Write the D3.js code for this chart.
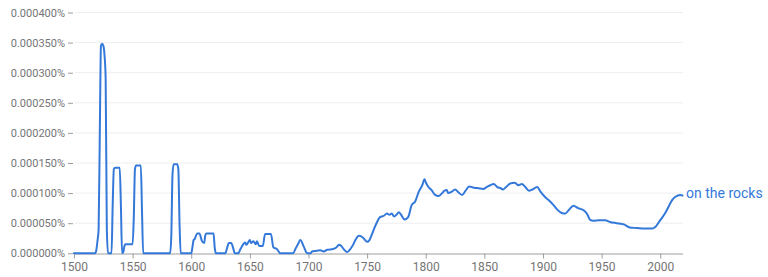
<!DOCTYPE html>
<html>
<head>
<meta charset="utf-8">
<script src="https://cdn.jsdelivr.net/npm/d3@7"></script>
<style>
  html, body { margin: 0; padding: 0; background: #fff; }
  svg { display: block; font-family: Roboto, "Noto Sans", sans-serif; }
</style>
</head>
<body>
<svg id="chart" width="768" height="277"></svg>
<script>
// Data: years and values (in units of 0.000001 %)
const years = [1500,1518,1519,1520,1521,1522,1523,1524,1525,1526,1527,1528,1529,1532,1533,1534,1535,1539,1540,1541,1542,1543,1544,1550,1551,1552,1553,1557,1558,1559,1582,1583,1584,1585,1588,1589,1590,1591,1600,1601,1602,1603,1605,1607,1609,1611,1612,1613,1619,1620,1621,1629,1631,1632,1634,1636,1637,1640,1642,1644,1646,1647,1650,1651,1653,1655,1656,1658,1661,1663,1668,1670,1673,1676,1687,1689,1691,1693,1696,1698,1699,1702,1703,1706,1710,1713,1716,1721,1724,1726,1728,1730,1733,1736,1738,1740,1743,1745,1747,1750,1752,1755,1758,1761,1764,1767,1769,1771,1773,1775,1777,1779,1782,1785,1788,1791,1794,1797,1799,1800,1802,1805,1808,1811,1814,1816,1818,1819,1822,1825,1828,1831,1834,1837,1841,1845,1849,1852,1855,1858,1861,1864,1866,1869,1872,1876,1879,1882,1885,1888,1891,1895,1898,1902,1905,1909,1912,1916,1919,1922,1926,1930,1935,1938,1940,1943,1948,1953,1957,1963,1969,1974,1980,1987,1993,1996,2000,2004,2007,2010,2013,2017,2019];
const values = [0,0,5,20,40,200,345,348,345,330,290,40,0,0,80,140,142,142,80,0,2,12,15,15,60,140,146,146,70,0,0,30,130,148,148,140,50,0,0,10,22,24,33,33,21,17,30,33,33,10,0,0,12,17,17,7,0,0,7,14,18,14,22,17,20,15,20,12,12,32,32,10,7,0,0,8,15,22,11,2,0,0,3,4,5,3,6,7,10,14,12,7,2,8,14,22,29,28,25,19,22,36,50,60,62,66,64,66,61,64,68,64,56,60,80,86,102,113,123,118,111,105,97,95,100,104,105,100,102,106,101,97,104,111,109,108,107,110,113,115,110,108,106,111,116,117,113,115,110,104,106,110,102,93,88,80,73,67,66,72,79,75,71,64,56,54,55,55,52,50,48,43,42,41,41,44,55,66,77,88,94,97,96];
const seriesName = "on the rocks";
const yTicks = [0, 50, 100, 150, 200, 250, 300, 350, 400];
const xTicks = [1500, 1550, 1600, 1650, 1700, 1750, 1800, 1850, 1900, 1950, 2000];

const svg = d3.select("#chart");
const color = "#3479d9";
const textGray = "#757575";

const x = d3.scaleLinear().domain([1500, 2019]).range([74, 682.5]);
const y = d3.scaleLinear().domain([0, 400]).range([253.3, 12.5]);

const fmt = v => (v / 1e6).toFixed(6) + "%";

// Gridlines
svg.append("g")
  .selectAll("line")
  .data(yTicks.slice(1))
  .join("line")
  .attr("x1", 75).attr("x2", 683)
  .attr("y1", d => y(d)).attr("y2", d => y(d))
  .attr("stroke", "#eeeeee").attr("stroke-width", 1);

// Y axis
const yAxis = d3.axisLeft(y).tickValues(yTicks).tickFormat(fmt).tickSize(5).tickPadding(3);
const gy = svg.append("g").attr("transform", "translate(73,0)").call(yAxis);
gy.select(".domain").remove();
gy.selectAll(".tick line").attr("stroke", "#9e9e9e");
gy.selectAll(".tick text").attr("fill", textGray).style("font-size", "11px").style("font-family", "Roboto, sans-serif");

// X axis
const xAxis = d3.axisBottom(x).tickValues(xTicks).tickFormat(d3.format("d")).tickSize(5).tickPadding(4);
const gx = svg.append("g").attr("transform", "translate(0,253.5)").call(xAxis);
gx.select(".domain").attr("stroke", "#9e9e9e").attr("d", "M" + x(1500) + ",0.5H683");
gx.selectAll(".tick line").attr("stroke", "#9e9e9e");
gx.selectAll(".tick text").attr("fill", textGray).style("font-size", "12px").style("font-family", "Roboto, sans-serif");

// Line
const data = years.map((yr, i) => ({ year: yr, value: values[i] }));
const line = d3.line().x(d => x(d.year)).y(d => y(d.value)).curve(d3.curveMonotoneX);
svg.append("path")
  .datum(data)
  .attr("d", line)
  .attr("fill", "none")
  .attr("stroke", color)
  .attr("stroke-width", 2)
  .attr("stroke-linejoin", "round")
  .attr("stroke-linecap", "round");

// Label
const last = data[data.length - 1];
svg.append("text")
  .attr("x", 686)
  .attr("y", y(last.value) + 2)
  .attr("fill", color)
  .style("font-size", "14px")
  .style("font-family", "Roboto, sans-serif")
  .text(seriesName);
</script>
</body>
</html>
